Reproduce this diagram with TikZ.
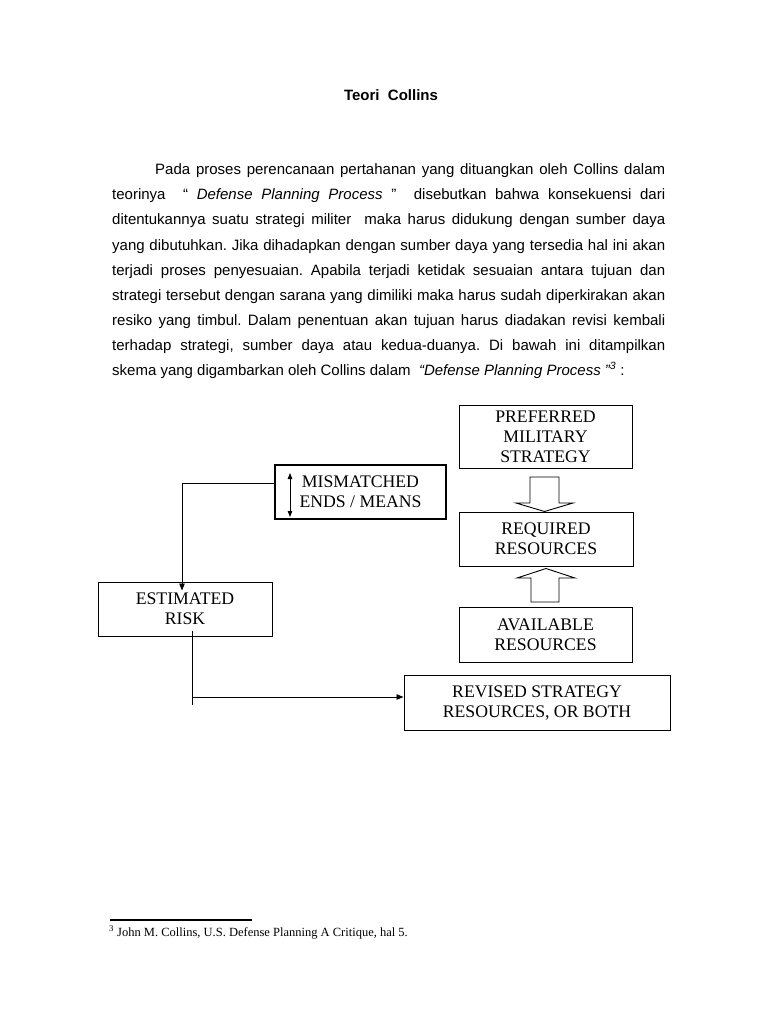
\documentclass[tikz,border=0pt]{standalone}
\usepackage{fontspec}
\setmainfont{Liberation Serif}
\newfontfamily\arialf{Liberation Sans}
\usetikzlibrary{arrows.meta}
\frenchspacing
\begin{document}
\begin{tikzpicture}[x=1pt,y=-1pt,
  body/.style={anchor=base west,inner sep=0pt,font=\arialf\fontsize{15}{25}\selectfont},
  boxn/.style={draw,line width=1pt,inner sep=0pt,align=center,font=\fontsize{17.7}{20}\selectfont},
  conn/.style={line width=0.9pt},
  tip/.style={-{Triangle[length=7pt,width=5.5pt]}},
  blockarrow/.style={draw,line width=0.9pt,fill=white,line join=miter}]
\useasboundingbox[fill=white] (0,0) rectangle (768,1024);

% title
\node[anchor=base,inner sep=0pt,font=\arialf\bfseries\fontsize{15}{18}\selectfont] (title) at (391,101) {Teori\ \ Collins};

% paragraph
\node[body] (l1) at (155,175) {\makebox[510pt][s]{Pada proses perencanaan pertahanan yang dituangkan oleh Collins dalam}};
\node[body] (l2) at (112,200) {\makebox[553pt][s]{teorinya \ “ \textit{Defense Planning Process} ” \ disebutkan bahwa konsekuensi dari}};
\node[body] (l3) at (112,225) {\makebox[553pt][s]{ditentukannya suatu strategi militer \ maka harus didukung dengan sumber daya}};
\node[body] (l4) at (112,250) {\makebox[553pt][s]{yang dibutuhkan. Jika dihadapkan dengan sumber daya yang tersedia hal ini akan}};
\node[body] (l5) at (112,275) {\makebox[553pt][s]{terjadi proses penyesuaian. Apabila terjadi ketidak sesuaian antara tujuan dan}};
\node[body] (l6) at (112,300) {\makebox[553pt][s]{strategi tersebut dengan sarana yang dimiliki maka harus sudah diperkirakan akan}};
\node[body] (l7) at (112,325) {\makebox[553pt][s]{resiko yang timbul. Dalam penentuan akan tujuan harus diadakan revisi kembali}};
\node[body] (l8) at (112,350) {\makebox[553pt][s]{terhadap strategi, sumber daya atau kedua-duanya. Di bawah ini ditampilkan}};
\node[body] (l9) at (112,375) {skema yang digambarkan oleh Collins dalam \ \textit{“Defense Planning Process ”\textsuperscript{3}} :};

% boxes
\node[boxn,minimum width=173pt,minimum height=63pt] (pref) at (545.5,436.5) {PREFERRED\\MILITARY\\STRATEGY};
\node[boxn,line width=2pt,minimum width=171pt,minimum height=54pt] (mis) at (360.5,492) {MISMATCHED\\ENDS / MEANS};
\node[boxn,minimum width=174pt,minimum height=54pt] (req) at (546,539) {REQUIRED\\RESOURCES};
\node[boxn,minimum width=174pt,minimum height=54pt] (est) at (185,609) {ESTIMATED\\RISK};
\node[boxn,minimum width=173pt,minimum height=55pt] (avail) at (545.5,634.5) {AVAILABLE\\RESOURCES};
\node[boxn,minimum width=266pt,minimum height=55pt] (rev) at (537,702.5) {REVISED STRATEGY\\RESOURCES, OR BOTH};

% double-headed arrow inside mismatched box
\draw[conn,{Triangle[length=6pt,width=4.5pt]}-{Triangle[length=6pt,width=4.5pt]}] (290,473) -- (290,517);

% block arrows
\draw[blockarrow] (530,477) -- (559,477) -- (559,503) -- (573,503) -- (544.5,511.5) -- (516,503) -- (530,503) -- cycle;
\draw[blockarrow] (531,602) -- (559,602) -- (559,578) -- (575,578) -- (546,568.5) -- (517,578) -- (531,578) -- cycle;

% connectors
\draw[conn,tip] ([yshift=9pt]mis.west) -| ([xshift=-3pt,yshift=-9pt]est.north);
\coordinate (j) at (192,697);
\draw[conn] ([xshift=7pt,yshift=6pt]est.south) -- (192,705);
\draw[conn,tip] (j) -- (rev.west |- j);

% footnote
\draw[line width=1.3pt] (110,920) -- (252,920);
\node[anchor=base west,inner sep=0pt,font=\fontsize{12.5}{14}\selectfont] (fn) at (109,936) {\textsuperscript{3} John M. Collins, U.S. Defense Planning A Critique, hal 5.};
\end{tikzpicture}
\end{document}
